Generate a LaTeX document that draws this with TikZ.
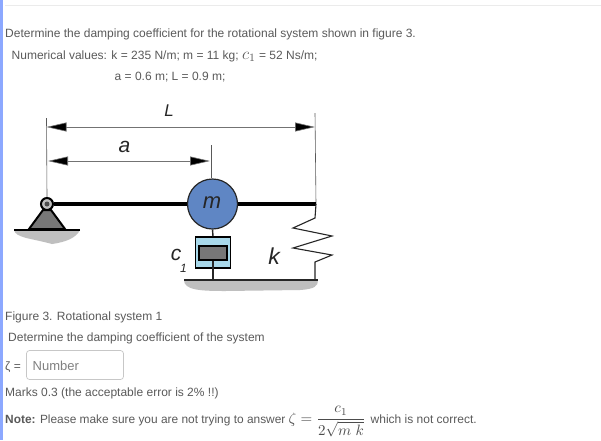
\documentclass[tikz,border=0pt]{standalone}
\usepackage{fontspec}
\setmainfont{Liberation Sans}
\usetikzlibrary{arrows.meta}
\definecolor{txt}{HTML}{5A5A5A}
\definecolor{band}{HTML}{8CA8FF}
\definecolor{massblue}{HTML}{5F86C4}
\definecolor{gnd}{HTML}{BFBFBF}
\definecolor{pist}{HTML}{A8D8EA}
\definecolor{dgray}{HTML}{777777}
\tikzset{
  para/.style={anchor=base west,inner sep=0pt,text=txt,font=\fontsize{12}{14}\selectfont},
  lab/.style={inner sep=0pt,text=black!85,font=\fontsize{21}{24}\selectfont\itshape},
  dim/.style={draw=black!55,line width=0.6pt},
  dimarrow/.style={dim,{Triangle[length=20pt,width=9pt,fill=black]}-{Triangle[length=20pt,width=9pt,fill=black]}},
  ext/.style={draw=black!65,line width=0.6pt},
  beam/.style={line width=3.4pt,line cap=butt},
  struct/.style={line width=1.4pt,black!85},
  ground/.style={fill=gnd,draw=none}
}
\begin{document}
\begin{tikzpicture}[x=1pt,y=-1pt]
\useasboundingbox (0,0) rectangle (601,440);
\fill[white] (0,0) rectangle (601,440);
\fill[band] (0,0) rectangle (3,440);
\draw[black!8,line width=0.7pt] (5,5) -- (601,5);
% text
\node[para] (t1) at (5,37.5) {Determine the damping coefficient for the rotational system shown in figure 3.};
\node[para] (t2) at (11.5,59) {Numerical values: k = 235 N/m; m = 11 kg; \scalebox{1.4}{$c_1$} = 52 Ns/m;};
\node[para] (t3) at (114.5,80) {a = 0.6 m; L = 0.9 m;};
\node[para] (t4) at (5,320) {Figure 3. Rotational system 1};
\node[para] (t5) at (8,341) {Determine the damping coefficient of the system};
\node[para] (t6) at (5,370) {ζ =};
\node[draw=black!22,rounded corners=3pt,line width=0.7pt,minimum width=97pt,minimum height=29pt,inner sep=0pt] (inp) at (75,365) {};
\node[para,text=black!50,font=\fontsize{13}{15}\selectfont] (t7) at (32.5,370) {Number};
\node[para] (t8) at (5,396) {Marks 0.3 (the acceptable error is 2\% !!)};
\node[para,font=\fontsize{11.9}{14}\selectfont] (t9) at (5,423) {\textbf{Note:} Please make sure you are not trying to answer};
\node[anchor=base west,inner sep=0pt,text=black!70] (t10) at (288.5,423) {\scalebox{1.5}{$\zeta=\displaystyle\frac{c_1}{2\sqrt{m\ k}}$}};
\node[para] (t11) at (370.5,423) {which is not correct.};
% grounds
\fill[ground] (14,230) .. controls (16,238) and (30,238) .. (52,244) .. controls (66,242) and (76,238) .. (80,230) -- cycle;
\fill[ground] (184,280) .. controls (184,290) and (200,291) .. (225,291) -- (300,290) .. controls (315,289) and (318,286) .. (318,280) -- cycle;
% named points
\coordinate (extLtop) at (46.5,118);
\coordinate (extRtop) at (315,113);
\coordinate (extMtop) at (211,145);
\coordinate (beamEnd) at (316,204);
\coordinate (gndL) at (14,230);
\coordinate (gndLr) at (80,230);
\coordinate (gndR) at (184,280);
\coordinate (gndRr) at (318,280);
\coordinate (rodBot) at (213,280);
\coordinate (springBot) at (315,280);
% ext lines
\coordinate (LA) at (46.5,127);
\coordinate (LB) at (315,127);
\coordinate (aA) at (48,161);
\coordinate (aB) at (210,161);
\node[circle,draw=black,line width=2pt,fill=gnd,minimum size=12pt,inner sep=0pt] (pivot) at (47,204) {};
\draw[ext] (extLtop) -- (pivot.north);
\draw[ext] (extRtop) -- (beamEnd);
\draw[dimarrow] (LA) -- (LB);
\draw[dimarrow] (aA) -- (aB);
% support triangle
\draw[line width=2pt,fill=dgray,line join=miter] (43,210) -- (29,229) -- (65,229) -- (51,210) -- cycle;
\draw[line width=2pt] (gndL) -- (gndLr);
% beam
\node[circle,draw=black!85,line width=1.2pt,fill=massblue,minimum size=50pt,inner sep=0pt] (mass) at (212.5,204) {};
\draw[ext] (extMtop) -- (mass.north -| extMtop);
\draw[beam] (pivot.east) -- (mass.west);
\draw[beam] (mass.east) -- (beamEnd);
\node[circle,fill=black!70,minimum size=5pt,inner sep=0pt] (pivotin) at (47,204) {};
\node[lab,font=\fontsize{22}{24}\selectfont\itshape] (lm) at (212,203) {m};
% damper
\node[draw=black,line width=1.6pt,fill=pist,minimum width=35pt,minimum height=31pt,inner sep=0pt] (damper) at (213,252.5) {};
\node[draw=black,line width=1.6pt,fill=dgray,minimum width=28pt,minimum height=14pt,inner sep=0pt] (piston) at (213,253) {};
\draw[struct] (mass.south) -- (damper.north);
\draw[struct] (piston.south) -- (rodBot);
\draw[line width=1.3pt,black!85] (gndR) -- (gndRr);
% spring
\draw[line width=1.1pt,black!85,line join=miter] (beamEnd) -- (315,218) -- (293,228) -- (332,236) -- (293,248) -- (332,255) -- (315,262) -- (springBot);
% labels
\node[lab,font=\fontsize{17}{20}\selectfont\itshape] (lL) at (169,110.5) {L};
\node[lab] (la) at (124.5,147) {a};
\node[lab] (lc) at (176,255) {c};
\node[lab,font=\fontsize{12}{14}\selectfont\itshape] (l1) at (183.5,268) {1};
\node[lab,font=\fontsize{23}{26}\selectfont\itshape] (lk) at (274,256) {k};
\end{tikzpicture}
\end{document}
